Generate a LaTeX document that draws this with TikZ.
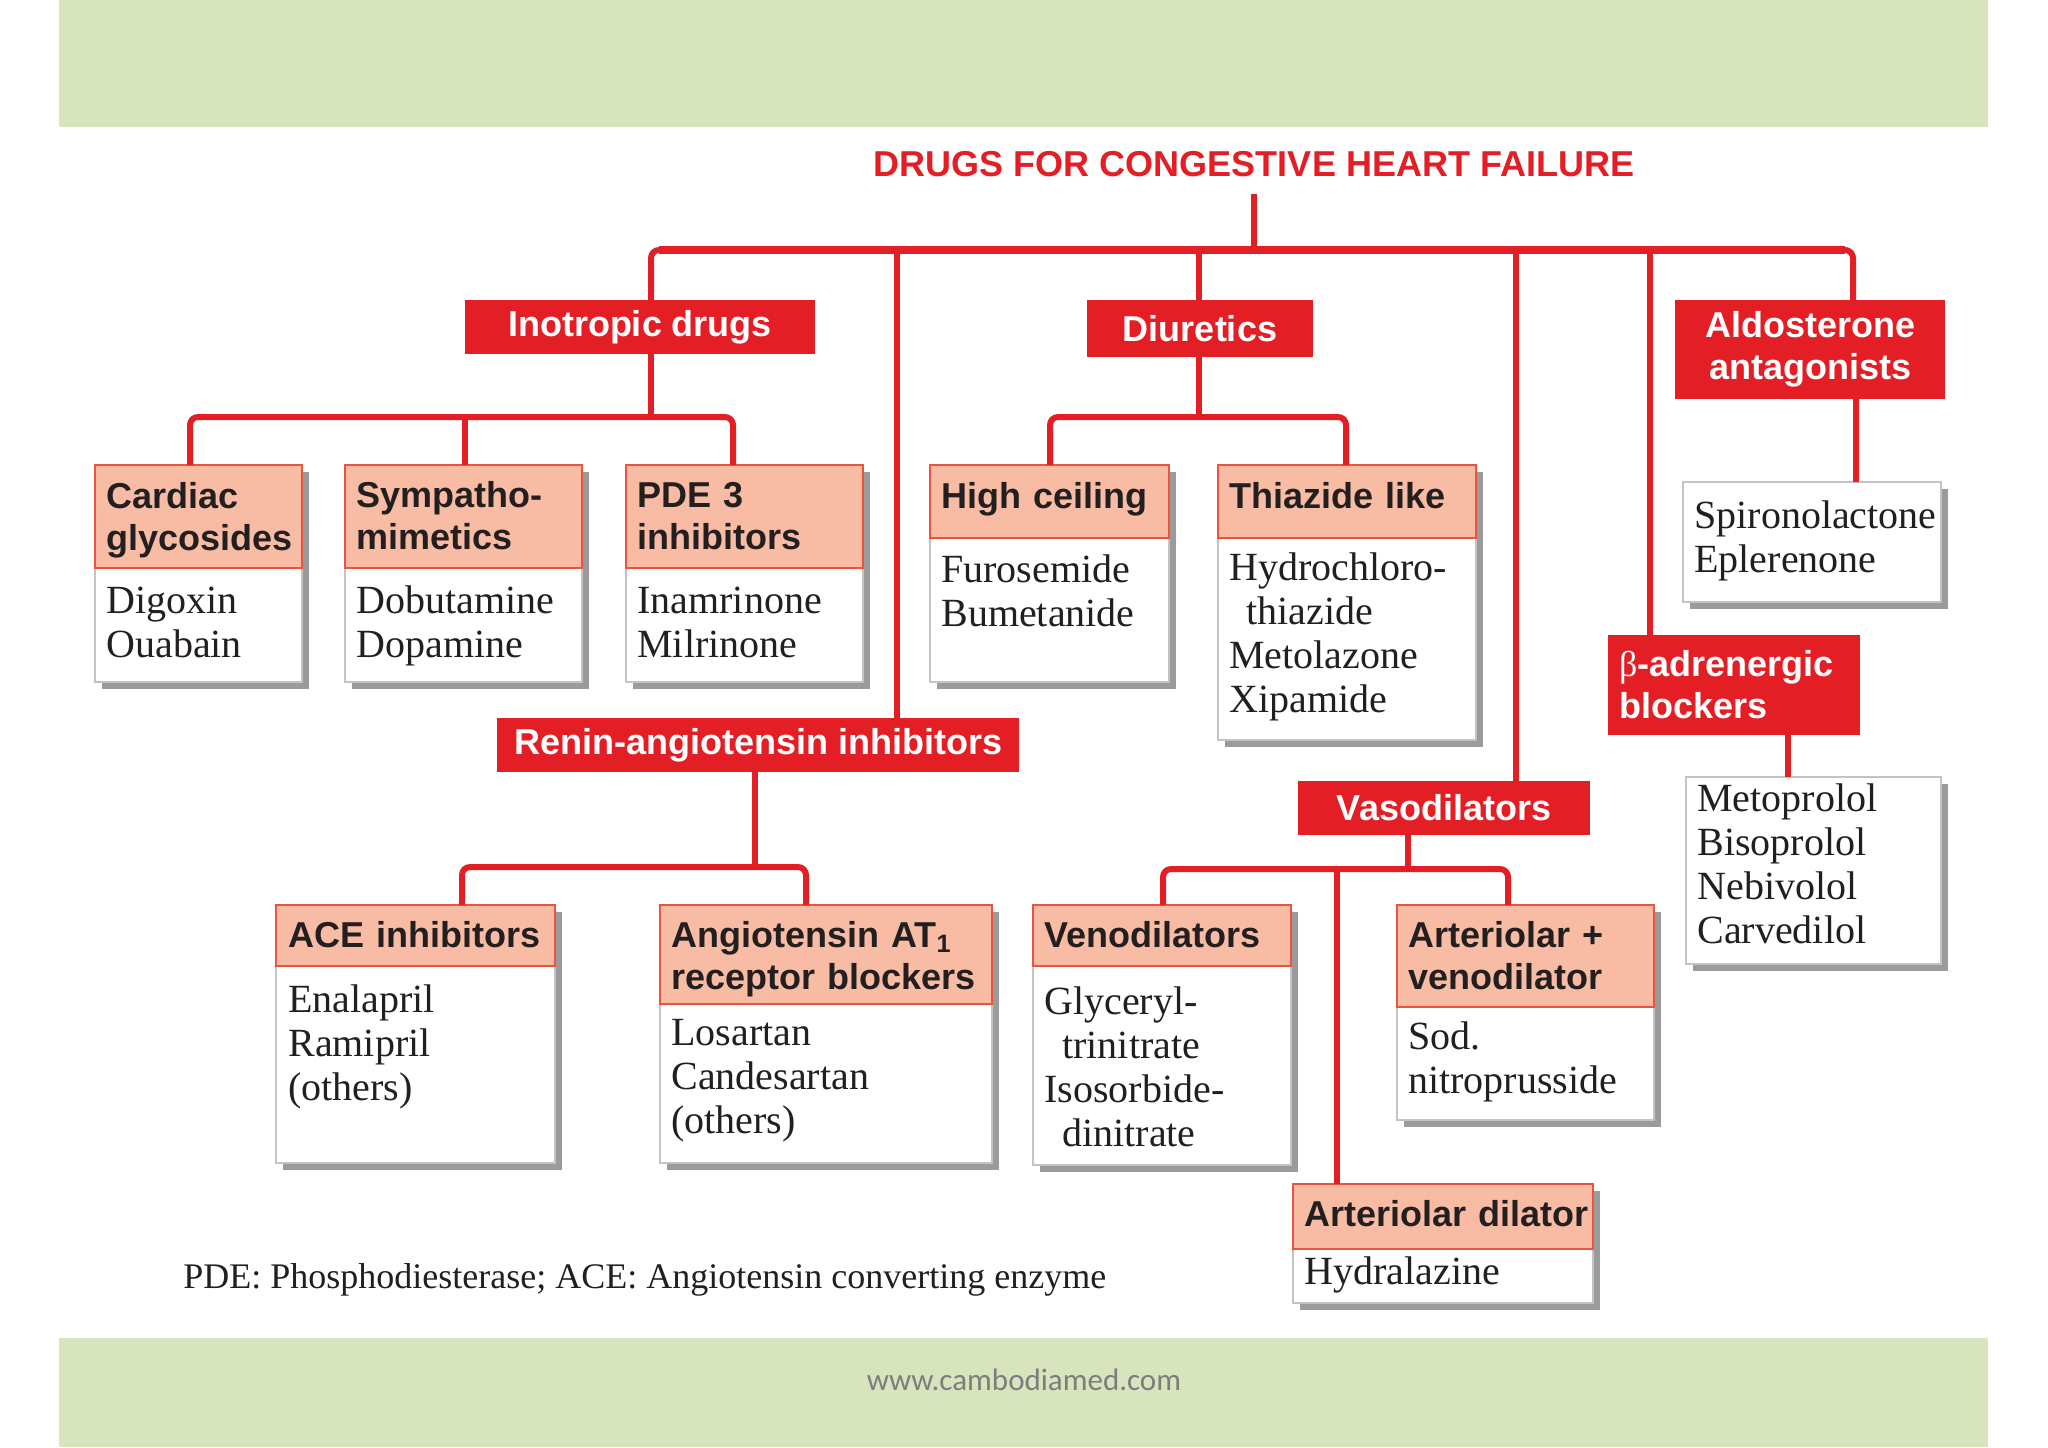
\documentclass[tikz,border=0pt]{standalone}
\usepackage{fontspec}
\setmainfont{Liberation Serif}
\setsansfont{Liberation Sans}
\newfontfamily\wmfont{Carlito}
\usetikzlibrary{calc,backgrounds}
\definecolor{cred}{RGB}{228,30,37}
\definecolor{salmon}{RGB}{247,188,163}
\definecolor{hdrline}{RGB}{232,84,62}
\definecolor{bodyline}{RGB}{195,195,195}
\definecolor{shadowc}{RGB}{155,155,155}
\definecolor{band}{RGB}{216,228,189}
\definecolor{txtc}{RGB}{35,31,32}
\definecolor{wmgray}{RGB}{125,125,125}
\newcommand\drugbox[6]{%
  \node[bodybox, minimum width={(#3-#2)*0.5pt}, minimum height={(#6-#5)*0.5pt}] (#1b) at (#2,#5) {};
  \node[hdrbox, minimum width={(#3-#2)*0.5pt}, minimum height={(#5-#4)*0.5pt}] (#1h) at (#2,#4) {};
  \begin{pgfonlayer}{background}
    \fill[shadowc] ($(#1h.north west)+(7,7)$) rectangle ($(#1b.south east)+(7,7)$);
  \end{pgfonlayer}}
\newcommand\plainbox[5]{%
  \node[bodybox, minimum width={(#3-#2)*0.5pt}, minimum height={(#5-#4)*0.5pt}] (#1) at (#2,#4) {};
  \begin{pgfonlayer}{background}
    \fill[shadowc] ($(#1.north west)+(7,7)$) rectangle ($(#1.south east)+(7,7)$);
  \end{pgfonlayer}}
\begin{document}
\begin{tikzpicture}[x=0.5pt,y=-0.5pt,
  conn/.style={draw=cred, line width=3pt, rounded corners=4pt},
  redbox/.style={fill=cred, text=white, font=\sffamily\bfseries\fontsize{18}{21}\selectfont, inner sep=0pt, outer sep=0pt, anchor=north west},
  hdrbox/.style={fill=salmon, draw=hdrline, line width=1pt, inner sep=0pt, outer sep=0pt, anchor=north west},
  bodybox/.style={fill=white, draw=bodyline, line width=1pt, inner sep=0pt, outer sep=0pt, anchor=north west},
  hdrtxt/.style={font=\sffamily\bfseries\fontsize{18}{21}\selectfont, text=txtc, inner sep=0pt, anchor=base west, text width=170pt, align=left},
  bodytxt/.style={font=\fontsize{20}{22}\selectfont, text=txtc, inner sep=0pt, anchor=base west, text width=170pt, align=left}]
\useasboundingbox (0,0) rectangle (2048,1447);
\begin{pgfonlayer}{background}
  \fill[white] (0,0) rectangle (2048,1447);
  \fill[band] (59,0) rectangle (1988,127);
  \fill[band] (59,1338) rectangle (1988,1447);
\end{pgfonlayer}

% title and footer texts
\node[font=\sffamily\bfseries\fontsize{18}{21}\selectfont, text=cred, inner sep=0pt, anchor=base] (title) at (1254,176) {DRUGS FOR CONGESTIVE HEART FAILURE};
\node[font=\fontsize{18}{21}\selectfont, text=txtc, inner sep=0pt, anchor=base west] (foot) at (183,1288) {PDE: Phosphodiesterase; ACE: Angiotensin converting enzyme};
\node[font=\wmfont\fontsize{15.5}{18}\selectfont, text=wmgray, inner sep=0pt, anchor=base] (wm) at (1024,1390) {www.cambodiamed.com};

% red category boxes
\node[redbox, minimum width={(815-465)*0.5pt}, minimum height={(354-300)*0.5pt}] (ino) at (465,300) {Inotropic drugs};
\node[redbox, minimum width={(1313-1087)*0.5pt}, minimum height={(357-300)*0.5pt}] (diu) at (1087,300) {Diuretics};
\node[redbox, align=center, minimum width={(1945-1675)*0.5pt}, minimum height={(399-300)*0.5pt}] (aldo) at (1675,300) {Aldosterone\\antagonists};
\node[redbox, align=left, text width=115pt, inner xsep=5.5pt, minimum height={(735-635)*0.5pt}] (beta) at (1608,635) {{\rmfamily\mdseries β}-adrenergic\\blockers};
\node[redbox, minimum width={(1019-497)*0.5pt}, minimum height={(772-718)*0.5pt}] (ra) at (497,718) {Renin-angiotensin inhibitors};
\node[redbox, minimum width={(1590-1298)*0.5pt}, minimum height={(835-781)*0.5pt}] (vaso) at (1298,781) {Vasodilators};

% drug boxes
\drugbox{cg}{95}{302}{465}{568}{682}
\node[hdrtxt] (cgt) at (106,508) {Cardiac\\glycosides};
\node[bodytxt] (cgd) at (106,613) {Digoxin\\Ouabain};

\drugbox{sy}{345}{582}{465}{568}{682}
\node[hdrtxt] (syt) at (356,507) {Sympatho-\\mimetics};
\node[bodytxt] (syd) at (356,613) {Dobutamine\\Dopamine};

\drugbox{pde}{626}{863}{465}{568}{682}
\node[hdrtxt] (pdet) at (637,507) {PDE 3\\inhibitors};
\node[bodytxt] (pded) at (637,613) {Inamrinone\\Milrinone};

\drugbox{hc}{930}{1169}{465}{538}{682}
\node[hdrtxt] (hct) at (941,508) {High ceiling};
\node[bodytxt] (hcd) at (941,582) {Furosemide\\Bumetanide};

\drugbox{tz}{1218}{1476}{465}{538}{740}
\node[hdrtxt] (tzt) at (1229,508) {Thiazide like};
\node[bodytxt] (tzd) at (1229,580) {Hydrochloro-\\\hspace*{8.5pt}thiazide\\Metolazone\\Xipamide};

\plainbox{aldob}{1683}{1941}{482}{602}
\node[bodytxt] (aldod) at (1694,528) {Spironolactone\\Eplerenone};

\plainbox{betab}{1686}{1941}{777}{964}
\node[bodytxt] (betad) at (1697,811) {Metoprolol\\Bisoprolol\\Nebivolol\\Carvedilol};

\drugbox{ace}{276}{555}{905}{966}{1163}
\node[hdrtxt] (acet) at (288,947) {ACE inhibitors};
\node[bodytxt] (aced) at (288,1012) {Enalapril\\Ramipril\\(others)};

\drugbox{at}{660}{992}{905}{1004}{1163}
\node[hdrtxt] (att) at (671,947) {Angiotensin AT\textsubscript{1}\\receptor blockers};
\node[bodytxt] (atd) at (671,1045) {Losartan\\Candesartan\\(others)};

\drugbox{veno}{1033}{1291}{905}{966}{1165}
\node[hdrtxt] (venot) at (1044,947) {Venodilators};
\node[bodytxt] (venod) at (1044,1014) {Glyceryl-\\\hspace*{9pt}trinitrate\\Isosorbide-\\\hspace*{9pt}dinitrate};

\drugbox{av}{1397}{1654}{905}{1007}{1120}
\node[hdrtxt] (avt) at (1408,947) {Arteriolar +\\venodilator};
\node[bodytxt] (avd) at (1408,1049) {Sod.\\nitroprusside};

\drugbox{adil}{1293}{1593}{1184}{1249}{1303}
\node[hdrtxt] (adilt) at (1304,1226) {Arteriolar dilator};
\node[bodytxt] (adild) at (1304,1284) {Hydralazine};

% junction coordinates
\coordinate (jRoot) at (1254,250);
\coordinate (jIno) at (651,250);
\coordinate (jRA) at (897,250);
\coordinate (jDiu) at (1199,250);
\coordinate (jVaso) at (1516,250);
\coordinate (jBeta) at (1650,250);
\coordinate (jAldo) at (1853,250);
\coordinate (aS) at (1856,450);
\coordinate (bS) at (1788,750);
\coordinate (iS) at (651,417);
\coordinate (iL) at (190,417);
\coordinate (iM) at (465,417);
\coordinate (iR) at (733,417);
\coordinate (dS) at (1199,417);
\coordinate (dL) at (1050,417);
\coordinate (dR) at (1346,417);
\coordinate (rS) at (755,867);
\coordinate (rL) at (462,867);
\coordinate (rR) at (806,867);
\coordinate (vS) at (1408,869);
\coordinate (vL) at (1163,869);
\coordinate (vM) at (1337,869);
\coordinate (vR) at (1508,869);

% connectors
\draw[conn, shorten <=8.5pt] (title.south) -- (jRoot);
\draw[conn] (jIno |- ino.north) -- (jIno) -- (jAldo) -- (jAldo |- aldo.north);
\draw[draw=cred, line width=4pt, shorten <=4pt, shorten >=4pt] (jIno) -- (jAldo);
\draw[conn] (jRA) -- (jRA |- ra.north);
\draw[conn] (jDiu) -- (jDiu |- diu.north);
\draw[conn] (jVaso) -- (jVaso |- vaso.north);
\draw[conn] (jBeta) -- (jBeta |- beta.north);

\draw[conn] (iS |- ino.south) -- (iS);
\draw[conn] (iL |- cgh.north) -- (iL) -- (iR) -- (iR |- pdeh.north);
\draw[conn] (iM) -- (iM |- syh.north);

\draw[conn] (dS |- diu.south) -- (dS);
\draw[conn] (dL |- hch.north) -- (dL) -- (dR) -- (dR |- tzh.north);

\draw[conn] (aS |- aldo.south) -- (aS |- aldob.north);
\draw[conn] (bS |- beta.south) -- (bS |- betab.north);

\draw[conn] (rS |- ra.south) -- (rS);
\draw[conn] (rL |- aceh.north) -- (rL) -- (rR) -- (rR |- ath.north);

\draw[conn] (vS |- vaso.south) -- (vS);
\draw[conn] (vL |- venoh.north) -- (vL) -- (vR) -- (vR |- avh.north);
\draw[conn] (vM) -- (vM |- adilh.north);
\end{tikzpicture}
\end{document}
